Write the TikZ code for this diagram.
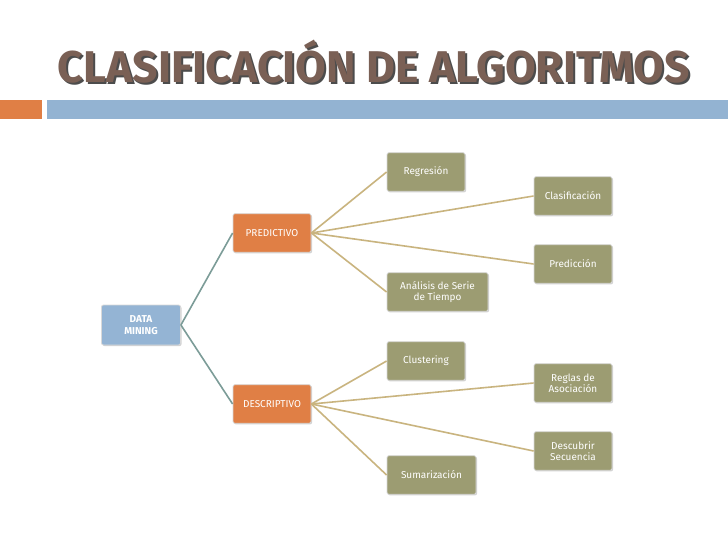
\documentclass[tikz,border=0pt]{standalone}
\usepackage{fontspec}
\setmainfont{Fira Sans}
\usetikzlibrary{shadows}
\definecolor{bxblue}{HTML}{94B4D4}
\definecolor{bxor}{HTML}{E07F45}
\definecolor{bxgr}{HTML}{9C9C72}
\definecolor{lntan}{HTML}{C9B47F}
\definecolor{lnteal}{HTML}{7C9C98}
\definecolor{ttl}{HTML}{7A6055}
\definecolor{barbl}{HTML}{93B3D2}
\begin{document}
\begin{tikzpicture}[x=0.75pt,y=-0.75pt,
  bx/.style={draw=white!85!black,line width=0.6pt,rounded corners=1.5pt,text=white,font=\fontsize{7.5}{8.5}\selectfont,align=center,inner sep=0pt,drop shadow={shadow xshift=0.8pt,shadow yshift=-0.8pt,opacity=0.35}},
  ln/.style={lntan,line width=1.2pt},
  lt/.style={lnteal,line width=1.2pt}]
\useasboundingbox (0,0) rectangle (728,546);
\fill[white] (0,0) rectangle (728,546);
\node (title) at (376,64) {\resizebox{632\dimexpr0.75pt\relax}{!}{\color{black!70}\bfseries CLASIFICACIÓN DE ALGORITMOS}};
\node at (374,62) {\resizebox{632\dimexpr0.75pt\relax}{!}{\color{ttl}\bfseries CLASIFICACIÓN DE ALGORITMOS}};
\fill[bxor] (0,100) rectangle (42,119);
\fill[barbl] (47,100) rectangle (728,119);
\node[bx,fill=bxblue,minimum width=59.25pt,minimum height=30pt,font=\bfseries\fontsize{7.5}{8.5}\selectfont] (dm) at (141,325) {DATA\\MINING};
\node[bx,fill=bxor,minimum width=58.5pt,minimum height=29pt] (pre) at (272,233) {PREDICTIVO};
\node[bx,fill=bxor,minimum width=58.5pt,minimum height=29pt] (des) at (272,404) {DESCRIPTIVO};
\tikzset{g/.style={bx,fill=bxgr,minimum width=58.5pt,minimum height=29pt}}
\node[g] (reg) at (426,172) {Regresión};
\node[g] (cla) at (573,196) {Clasificación};
\node[g] (prd) at (573,264) {Predicción};
\node[g,minimum width=75.75pt] (ana) at (437.5,292) {Análisis de Serie\\de Tiempo};
\node[g] (clu) at (426,361) {Clustering};
\node[g] (rgl) at (573,383) {Reglas de\\Asociación};
\node[g] (dsc) at (573,451) {Descubrir\\Secuencia};
\node[g,minimum width=66.75pt] (sum) at (431.5,475) {Sumarización};
\draw[lt] (dm.east) -- (pre.west);
\draw[lt] (dm.east) -- (des.west);
\foreach \t in {reg,cla,prd,ana} \draw[ln] (pre.east) -- (\t.west);
\foreach \t in {clu,rgl,dsc,sum} \draw[ln] (des.east) -- (\t.west);
\end{tikzpicture}
\end{document}
